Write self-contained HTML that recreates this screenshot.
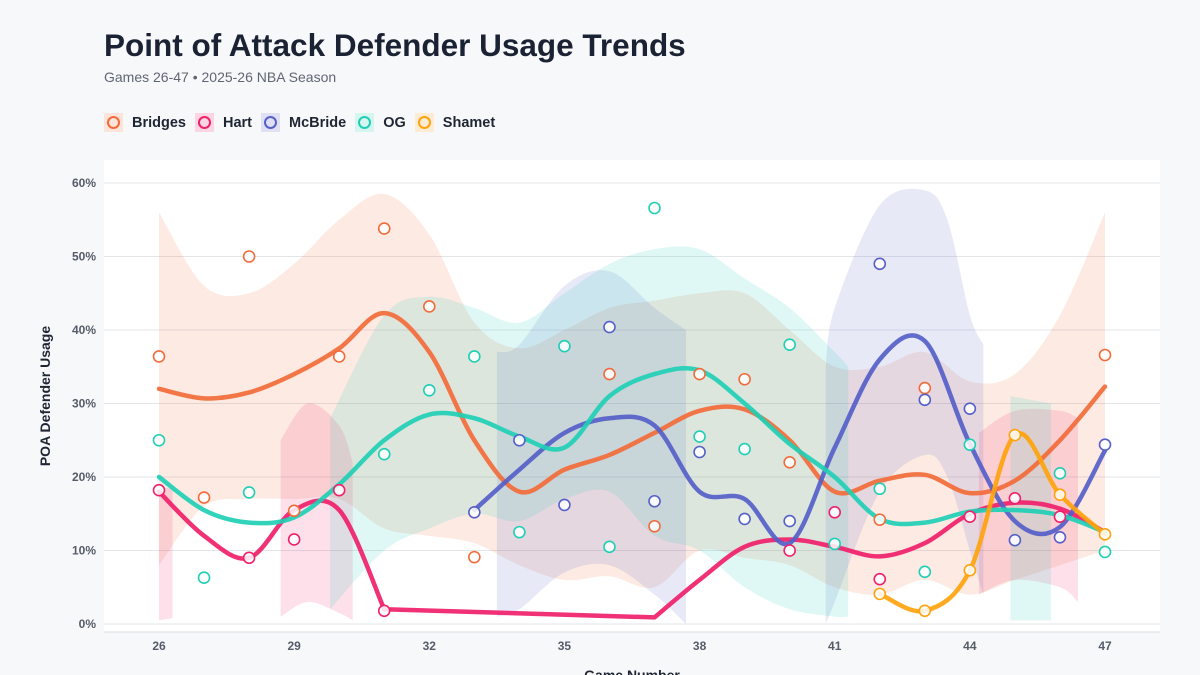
<!DOCTYPE html>
<html><head><meta charset="utf-8"><style>
body{margin:0;width:1200px;height:675px;background:#f7f8fa;font-family:"Liberation Sans",sans-serif;overflow:hidden;position:relative}
.t{position:absolute;left:104px;top:27px;font-size:31.5px;font-weight:bold;color:#1a2233}
.s{position:absolute;left:104px;top:69px;font-size:14px;color:#5f6673}
.lg{position:absolute;top:113px;left:104px;display:flex;font-size:14.5px;font-weight:bold;color:#1f2633}
.li{display:flex;align-items:center;margin-right:9px}
.bx{width:19px;height:19px;display:flex;align-items:center;justify-content:center;margin-right:9px}
.ci{width:9px;height:9px;border-radius:50%;border:2.5px solid}
svg{position:absolute;left:0;top:0}
</style></head><body>
<div class="t">Point of Attack Defender Usage Trends</div>
<div class="s">Games 26-47 • 2025-26 NBA Season</div>
<div class="lg">
<div class="li"><div class="bx" style="background:#fde3da"><div class="ci" style="border-color:#f26b3a"></div></div>Bridges</div>
<div class="li"><div class="bx" style="background:#fbd6e2"><div class="ci" style="border-color:#f0206a"></div></div>Hart</div>
<div class="li"><div class="bx" style="background:#dfe0f3"><div class="ci" style="border-color:#5560c8"></div></div>McBride</div>
<div class="li"><div class="bx" style="background:#d6f5ef"><div class="ci" style="border-color:#1fcfb5"></div></div>OG</div>
<div class="li"><div class="bx" style="background:#fdebd3"><div class="ci" style="border-color:#ffa30d"></div></div>Shamet</div>
</div>
<svg id="c" width="1200" height="675"></svg>
<script>
const games=[26,27,28,29,30,31,32,33,34,35,36,37,38,39,40,41,42,43,44,45,46,47];
const xTicks=[26,29,32,35,38,41,44,47];
const yTicks=[0,10,20,30,40,50,60];
const N=null;
const bridgesPts=[36.4,17.2,50,15.4,36.4,53.8,43.2,9.1,N,N,34,13.3,34,33.3,22,N,14.2,32.1,N,N,N,36.6];
const bridgesLine=[32,30.7,31.5,34,37.5,42.3,37,25,18,21,23,26,29,29.2,25,18,19.5,20.3,17.8,19.5,25,32.3];
const bridgesBandX=[26,27,28,29,30,31,32,33,34,35,36,37,38,39,40,41,42,43,44,45,46,47];
const bridgesHi=[56,46,45,49,55,58.5,53,41,37.5,40,43,44,45,45,40,35,35,37,33,34,42,56];
const bridgesLo=[8,16,17,17,17,13,12,11,8,6,6.5,5,10,9,8,5,4,6,4,6,8,10];
const hartPts=[18.2,N,9,11.5,18.2,1.8,N,N,N,N,N,N,N,N,10,15.2,6.1,N,14.6,17.1,14.6,N];
const hartLine=[18,12,9,15.5,15.5,2,N,N,N,N,N,0.9,6,10.5,11.5,10.5,9.2,11,15,16.5,15.7,12.5];
const hartBandX=[[26,26.3],[28.7,29.3,30,30.3],[44.2,45,46,46.4]];
const hartHi=[[18.5,18.5],[25,30,27,22],[26,29,29,28]];
const hartLo=[[0.5,0.8],[1,3,1.5,0.5],[4,6,5,3]];
const mcbridePts=[N,N,N,N,N,N,N,15.2,25,16.2,40.4,16.7,23.4,14.3,14,N,49,30.5,29.3,11.4,11.8,24.4];
const mcbrideLine=[N,N,N,N,N,N,N,15.5,21,26,28,27,18,17,11,24,36,38.5,24.5,14,13.2,23.6];
const mcbrideBandX=[[33.5,34,35,36,37,37.7],[40.8,41,42,43,43.5,44,44.3]];
const mcbrideHi=[[37,38,46,48,43,40],[35,43,57,59,55,42,38]];
const mcbrideLo=[[1,2,7,8,4,0],[0,3,18,23,20,10,4]];
const ogPts=[25,6.3,17.9,N,N,23.1,31.8,36.4,12.5,37.8,10.5,56.6,25.5,23.8,38,10.9,18.4,7.1,24.4,N,20.5,9.8];
const ogLine=[20,15.5,13.8,14.5,19,25,28.5,28,25.5,24,31,34,34.5,30,24.5,20,14.3,13.8,15.3,15.5,14.8,12.5];
const ogBandX=[[29.8,31,32,33,34,35,36,37,38,39,40,41,41.3],[44.9,45.8]];
const ogHi=[[28,42,44.5,43,41,45,49,51,51,47,43,37,35],[31,30]];
const ogLo=[[2,10,13,15,14,17,18,12,10,5,2,1,1],[0.5,0.5]];
const shametPts=[N,N,N,N,N,N,N,N,N,N,N,N,N,N,N,N,4.1,1.8,7.3,25.7,17.6,12.2];
const shametLine=[N,N,N,N,N,N,N,N,N,N,N,N,N,N,N,N,4.1,1.8,7.3,25.7,17.6,12.2];

const L=104,R=1160,T=160,B=632;
const X=g=>159+(g-26)*(1105-159)/21;
const Y=v=>624-v*(624-183)/60;
const svg=document.getElementById('c');const NS='http://www.w3.org/2000/svg';
function mk(t,a,p){const e=document.createElementNS(NS,t);for(const k in a)e.setAttribute(k,a[k]);(p||svg).appendChild(e);return e;}
function smooth(pts,gap){if(pts.length<2)return'';let d='M'+pts[0][0]+','+pts[0][1];
for(let i=0;i<pts.length-1;i++){const p1=pts[i],p2=pts[i+1];
if(gap&&p2[0]-p1[0]>gap){d+=' L'+p2[0]+','+p2[1];continue;}
let p0=pts[i-1]||p1,p3=pts[i+2]||p2;
if(gap&&p1[0]-p0[0]>gap)p0=p1; if(gap&&p3[0]-p2[0]>gap)p3=p2;
const t=6;
d+=' C'+(p1[0]+(p2[0]-p0[0])/t)+','+(p1[1]+(p2[1]-p0[1])/t)+' '+(p2[0]-(p3[0]-p1[0])/t)+','+(p2[1]-(p3[1]-p1[1])/t)+' '+p2[0]+','+p2[1];}return d;}
function pts(vals){const r=[];vals.forEach((v,i)=>{if(v!=null)r.push([X(games[i]),Y(v)]);});return r;}
const bg=mk('rect',{x:L,y:T,width:R-L,height:B-T,fill:'#fff'});

yTicks.forEach(v=>{const l=mk('line',{x1:L,x2:R,y1:Y(v),y2:Y(v),stroke:'#e3e5e9','stroke-width':1});

const t=mk('text',{x:96,y:Y(v)+4,'text-anchor':'end','font-size':12,'font-weight':'bold',fill:'#555c68'});t.textContent=v+'%';
});
mk('line',{x1:L,x2:R,y1:B,y2:B,stroke:'#d9dce1'});
xTicks.forEach(g=>{const t=mk('text',{x:X(g),y:650,'text-anchor':'middle','font-size':12,'font-weight':'bold',fill:'#555c68'});t.textContent=g;
});
const yt=mk('text',{x:0,y:0,transform:'translate(50,396) rotate(-90)','text-anchor':'middle','font-size':14,'font-weight':'bold',fill:'#1f2633'});yt.textContent='POA Defender Usage';

const xt=mk('text',{x:632,y:680,'text-anchor':'middle','font-size':14,'font-weight':'bold',fill:'#1f2633'});xt.textContent='Game Number';

const series=[
{n:'bridges',c:'#f26b3a',pts:bridgesPts,line:bridgesLine,bx:[bridgesBandX],hi:[bridgesHi],lo:[bridgesLo]},
{n:'hart',c:'#f0206a',pts:hartPts,line:hartLine,bx:hartBandX,hi:hartHi,lo:hartLo},
{n:'mcbride',c:'#5560c8',pts:mcbridePts,line:mcbrideLine,bx:mcbrideBandX,hi:mcbrideHi,lo:mcbrideLo},
{n:'og',c:'#1fcfb5',pts:ogPts,line:ogLine,bx:ogBandX,hi:ogHi,lo:ogLo},
{n:'shamet',c:'#ffa30d',pts:shametPts,line:shametLine,bx:[],hi:[],lo:[]}];
series.forEach(s=>{s.bx.forEach((xs,k)=>{const up=xs.map((g,i)=>[X(g),Y(s.hi[k][i])]);const dn=xs.map((g,i)=>[X(g),Y(s.lo[k][i])]).reverse();
const d=smooth(up)+' L'+dn[0][0]+','+dn[0][1]+smooth(dn).replace(/^M[^C]*/,'')+' Z';
const p=mk('path',{d:d,fill:s.c,'fill-opacity':0.14});
});});
series.forEach(s=>{const p=mk('path',{d:smooth(pts(s.line),60),fill:'none',stroke:s.c,'stroke-width':4.5,'stroke-linecap':'round','stroke-linejoin':'round','stroke-opacity':0.92});
});
series.forEach(s=>{s.pts.forEach((v,i)=>{if(v==null)return;const c=mk('circle',{cx:X(games[i]),cy:Y(v),r:5.5,fill:'#fff','fill-opacity':0.85,stroke:s.c,'stroke-width':1.6});
});});
</script>
</body></html>
